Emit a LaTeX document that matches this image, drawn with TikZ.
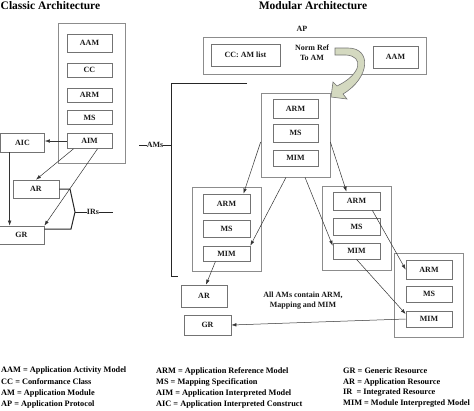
\documentclass[tikz,border=0pt]{standalone}
\usepackage{fontspec}
\setmainfont{Liberation Serif}
\usetikzlibrary{arrows.meta,calc}
\definecolor{arrfill}{RGB}{212,217,192}
\begin{document}
\begin{tikzpicture}[x=1pt,y=-1pt,
  lbl/.style={font=\fontsize{8}{9.6}\selectfont\bfseries, text=black!90},
  ib/.style 2 args={draw=black!55, line width=0.7pt, fill=white, lbl, inner sep=0pt, minimum width=#1pt, minimum height=#2pt},
  ob/.style 2 args={draw=black!45, line width=0.7pt, inner sep=0pt, minimum width=#1pt, minimum height=#2pt},
  conn/.style={draw=black!80, line width=0.5pt, -{Latex[length=5pt,width=3.5pt]}},
  brk/.style={draw=black!85, line width=1pt},
  ttl/.style={font=\fontsize{11.5}{13}\selectfont\bfseries},
  leg/.style={font=\fontsize{8.3}{10}\selectfont\bfseries, anchor=west, inner sep=0pt},
  txt/.style={lbl, align=center, inner sep=0pt}
]
\fill[white] (0,0) rectangle (474,410);
\useasboundingbox (0,0) rectangle (474,410);

% ---------- Classic ----------
\node[ttl, anchor=west, inner sep=0pt] (tC) at (0.5,6) {Classic Architecture};
\node[ob={67}{140}] (cOut) at (91.5,93) {};
\node[ib={45}{18}] (cAAM) at (89.5,43) {AAM};
\node[ib={45}{14}] (cCC) at (89.5,70) {CC};
\node[ib={45}{14}] (cARM) at (89.5,95) {ARM};
\node[ib={45}{14}] (cMS) at (89.5,117.5) {MS};
\node[ib={45}{15}] (cAIM) at (89.5,141) {AIM};
\node[ib={44}{19}] (cAIC) at (22.5,142.5) {AIC};
\node[ib={46}{18}] (cAR) at (36,189) {AR};
\node[ib={45}{18}] (cGR) at (21.5,235) {GR};

\draw[conn] (cAIM.west) -- (cAIM.west -| cAIC.east);
\draw[conn] ($(cAIM.south)+(-16,0)$) -- (cAR.north);
\draw[conn] ($(cAIM.south)+(8,0)$) -- (cGR.north east);
\draw[conn] ($(cAIC.south west)+(9.5,0)$) coordinate (v1) -- (v1 |- cGR.north);

\coordinate (irb) at (75,212);
\draw[brk] (cAR.east) -- (70,189) -- (irb) -- (71,229) -- ($(cGR.east)+(0,-6)$);
\node[lbl, inner sep=0pt] (IRs) at (93,212) {IRs};
\coordinate (irend) at (113,212);
\draw[brk, line width=0.7pt] (irb) -- (IRs.west);
\draw[brk, line width=0.7pt] (IRs.east) -- (irend);

% ---------- AMs bracket ----------
\coordinate (b1) at (247,83);
\coordinate (b2) at (171,83);
\coordinate (b3) at (171,276);
\coordinate (b4) at (178,276);
\draw[brk] (b1) -- (b2) -- (b3) -- (b4);
\node[lbl, inner sep=0pt] (AMs) at (155,145) {AMs};
\coordinate (amst) at (139,145);
\draw[brk, line width=0.7pt] (amst) -- (AMs.west);
\draw[brk, line width=0.7pt] (AMs.east) -- (AMs.east -| b2);

% ---------- Modular ----------
\node[ttl] (tM) at (313,6) {Modular Architecture};
\node[lbl, inner sep=0pt] (APl) at (302,29) {AP};
\node[ob={223}{37}] (mAP) at (314.5,55.5) {};
\node[ib={69}{22}] (mCC) at (245.5,55) {CC: AM list};
\node[txt] (norm) at (312,53) {Norm Ref\\To AM};
\node[ib={45}{22}] (mAAM) at (395.5,57) {AAM};

\filldraw[fill=arrfill, draw=black!55, line width=0.6pt]
 (335,48) -- (348,48) .. controls (372,48) and (370,78) .. (343,94)
 -- (347,99) -- (331,97) -- (333,82) -- (337,86)
 .. controls (362,74) and (364,56) .. (346,55) -- (335,55) -- cycle;

% central AM
\node[ob={69}{84}] (mCen) at (295.5,135) {};
\node[ib={45}{19}] (cenARM) at (295.5,108.5) {ARM};
\node[ib={45}{18}] (cenMS) at (295.5,133) {MS};
\node[ib={45}{16}] (cenMIM) at (295.5,158) {MIM};

% left AM
\node[ob={69}{84}] (mL) at (226.5,229) {};
\node[ib={47}{19}] (lARM) at (226.5,203.5) {ARM};
\node[ib={47}{17}] (lMS) at (226.5,228.5) {MS};
\node[ib={47}{15}] (lMIM) at (226.5,253.5) {MIM};

% middle-right AM
\node[ob={69}{84}] (mMR) at (356.5,228) {};
\node[ib={47}{18}] (mrARM) at (356.5,201) {ARM};
\node[ib={47}{17}] (mrMS) at (356.5,226.5) {MS};
\node[ib={47}{16}] (mrMIM) at (356.5,251) {MIM};

% right AM
\node[ob={69}{84}] (mR) at (428.5,295) {};
\node[ib={46}{19}] (rARM) at (429,269.5) {ARM};
\node[ib={46}{16}] (rMS) at (429,294) {MS};
\node[ib={46}{16}] (rMIM) at (429,319) {MIM};

\node[ib={46}{22}] (mAR) at (204,296) {AR};
\node[ib={47}{20}] (mGR) at (207.5,325) {GR};

\node[txt] (note) at (303,300.5) {All AMs contain ARM,\\Mapping and MIM};

% connectors
\draw[conn] ($(mCen.west)+(0,7)$) -- ($(lARM.north)+(17,0)$);
\draw[conn] ($(mCen.east)+(0,7)$) -- ($(mrARM.north)+(-10,0)$);
\draw[conn] ($(mCen.south)+(-9.5,0)$) -- (lMIM.north east);
\draw[conn] ($(mCen.south)+(9.5,0)$) -- ($(mrMIM.north west)+(0,3)$);
\draw[conn] ($(lMIM.south)+(-11,0)$) -- ($(mAR.north)+(2,0)$);
\draw[conn] ($(mrARM.south east)+(-8,0)$) -- (rARM.west);
\draw[conn] (mrMIM.south) -- ($(rMIM.west)+(0,-5)$);
\draw[conn] (rMIM.west) -- (mGR.east);

% ---------- legend ----------
\node[leg] (l11) at (1,371) {AAM = Application Activity Model};
\node[leg] (l12) at (1,382) {CC = Conformance Class};
\node[leg] (l13) at (1,393) {AM = Application Module};
\node[leg] (l14) at (1,404) {AP = Application Protocol};
\node[leg] (l21) at (156,371) {ARM = Application Reference Model};
\node[leg] (l22) at (156,382) {MS = Mapping Specification};
\node[leg] (l23) at (156,393) {AIM = Application Interpreted Model};
\node[leg] (l24) at (156,404) {AIC = Application Interpreted Construct};
\node[leg] (l31) at (343,371) {GR = Generic Resource};
\node[leg] (l32) at (343,382) {AR = Application Resource};
\node[leg] (l33) at (343,393) {IR\ \ = Integrated Resource};
\node[leg] (l34) at (343,404) {MIM = Module Interpregted Model};
\end{tikzpicture}
\end{document}
